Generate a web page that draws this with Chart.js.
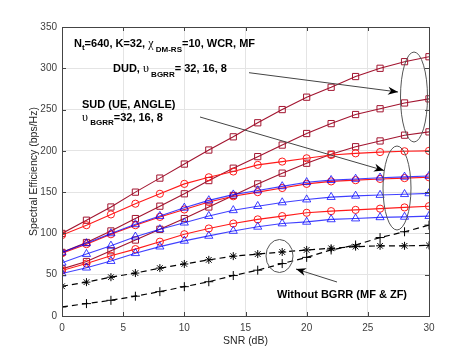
<!DOCTYPE html>
<html><head><meta charset="utf-8">
<script src="https://cdn.jsdelivr.net/npm/chart.js@4/dist/chart.umd.min.js"></script>
<style>html,body{margin:0;padding:0;background:#fff}</style>
</head><body>
<canvas id="c" width="474" height="355"></canvas>
<script>
const snr   = [0,2,4,6,8,10,12,14,16,18,20,22,24,26,28,30];
const dud32 = [100,116,132,150,167,184,201,217,234,250,265,277,290,300,308,314];
const dud16 = [77,89,103,118,133,148,164,179,193,207,221,233,244,251,258,263];
const dud8  = [57,66,79,92,105,118,132,146,160,173,185,196,205,212,219,223];
const ue32  = [98,110,123,136,148,160,168,175,183,187,191,195,197,198.5,199.5,200];
const ue16  = [76,87,99,110,120,129,138,145,150,155,160,163,164.5,166,167,168];
const ue8   = [55,63.5,73,81,90,99,106,112,117,121,125,127,128.5,130,131.5,133];
const ang32 = [77,88,100,111,121,131,140,147,152,157,162,164.5,166,167.5,168.5,169.5];
const ang16 = [64.5,75,85,96,105,113,121,128,133,137.5,141,144,145.5,146.5,147.5,148.5];
const ang8  = [51.5,58.5,66.5,76,84,91,97,103,108,112,114,117,118,119.5,120,121];
const mfNo  = [36,41,47,52,58,63,68,72.5,75,77.5,80,82,84,85,85,85.5];
const zfNo  = [11,15,19,24,29.5,35.5,41.5,49,55.5,63.5,71,80,86,95,102,110];
const xTicks = [0,5,10,15,20,25,30];
const yTicks = [0,50,100,150,200,250,300,350];

const pts = arr => arr.map((v,i)=>({x:snr[i], y:v}));
const DRED='#a2142f', RED='#ff1a1a', BLUE='rgba(0,0,255,0.75)';
function ds(data, color, style, r, order, extra){
  return Object.assign({data:pts(data), borderColor:color, backgroundColor:'transparent',
    borderWidth:1.1, pointStyle:style, pointRadius:r, pointBorderWidth:1,
    pointBorderColor:color, pointBackgroundColor:'transparent', tension:0, order:order}, extra||{});
}
const datasets = [
  ds(mfNo,'#000','star',4,0,{borderDash:[6,4],borderWidth:1.2}),
  ds(zfNo,'#000','cross',4.5,0,{borderDash:[6,4],borderWidth:1.2}),
  ds(ang32,BLUE,'triangle',4.7,1),
  ds(ang16,BLUE,'triangle',4.7,1),
  ds(ang8,BLUE,'triangle',4.7,1),
  ds(ue32,RED,'circle',3.6,2),
  ds(ue16,RED,'circle',3.6,2),
  ds(ue8,RED,'circle',3.6,2),
  ds(dud32,DRED,'rect',4.4,3),
  ds(dud16,DRED,'rect',4.4,3),
  ds(dud8,DRED,'rect',4.4,3)
];

const B='bold 11px "Liberation Sans", Arial, sans-serif';
const S='bold 8px "Liberation Sans", Arial, sans-serif';
const G='12px "Liberation Serif", serif';
function rich(ctx,x,y,segs){
  segs.forEach(s=>{ctx.font=s.f; ctx.fillText(s.t,x,y+(s.dy||0)); x+=ctx.measureText(s.t).width;});
}
function arrow(ctx,x1,y1,x2,y2){
  ctx.strokeStyle='#444'; ctx.lineWidth=1;
  ctx.beginPath(); ctx.moveTo(x1,y1); ctx.lineTo(x2,y2); ctx.stroke();
  const a=Math.atan2(y2-y1,x2-x1), L=10, W=4;
  const bx=x2-L*Math.cos(a), by=y2-L*Math.sin(a);
  const mx=x2-0.7*L*Math.cos(a), my=y2-0.7*L*Math.sin(a);
  ctx.fillStyle='#000'; ctx.beginPath(); ctx.moveTo(x2,y2);
  ctx.lineTo(bx+W*Math.sin(a), by-W*Math.cos(a));
  ctx.lineTo(mx,my);
  ctx.lineTo(bx-W*Math.sin(a), by+W*Math.cos(a));
  ctx.closePath(); ctx.fill();
}
function ell(ctx,cx,cy,rx,ry){
  ctx.strokeStyle='#555'; ctx.lineWidth=1;
  ctx.beginPath(); ctx.ellipse(cx,cy,rx,ry,0,0,Math.PI*2); ctx.stroke();
}
const deco = {
  id:'deco',
  afterDatasetsDraw(chart){
    const ctx=chart.ctx, a=chart.chartArea, xs=chart.scales.x, ys=chart.scales.y;
    ctx.save();
    ctx.strokeStyle='#444'; ctx.lineWidth=1;
    ctx.strokeRect(Math.round(a.left)+0.5, Math.round(a.top)+0.5, Math.round(a.right-a.left), Math.round(a.bottom-a.top));
    ctx.beginPath();
    xTicks.forEach(v=>{const px=Math.round(xs.getPixelForValue(v))+0.5;
      ctx.moveTo(px,a.bottom); ctx.lineTo(px,a.bottom-4); ctx.moveTo(px,a.top); ctx.lineTo(px,a.top+4);});
    yTicks.forEach(v=>{const py=Math.round(ys.getPixelForValue(v))+0.5;
      ctx.moveTo(a.left,py); ctx.lineTo(a.left+4,py); ctx.moveTo(a.right,py); ctx.lineTo(a.right-4,py);});
    ctx.stroke();
    ell(ctx,414,97,13.5,45); ell(ctx,397,188,14,42); ell(ctx,279.5,256,13.5,16.5);
    arrow(ctx,249,72.7,398,92); arrow(ctx,200,117,384,170.5); arrow(ctx,337,282,296,269);
    ctx.fillStyle='#000'; ctx.textBaseline='alphabetic'; ctx.textAlign='left';
    rich(ctx,74,47,[{t:'N',f:B},{t:'t',f:S,dy:3},{t:'=640, K=32, ',f:B},{t:'χ',f:G},{t:' DM-RS',f:S,dy:5},{t:'=10, WCR, MF',f:B}]);
    rich(ctx,113,72,[{t:'DUD, ',f:B},{t:'υ',f:G},{t:' BGRR',f:S,dy:4.5},{t:'= 32, 16, 8',f:B}]);
    rich(ctx,82,108,[{t:'SUD (UE, ANGLE)',f:B}]);
    rich(ctx,82,121,[{t:'υ',f:G},{t:' BGRR',f:S,dy:4},{t:'=32, 16, 8',f:B}]);
    rich(ctx,277,298,[{t:'Without BGRR (MF & ZF)',f:B}]);
    ctx.restore();
  }
};

new Chart(document.getElementById('c'),{
  type:'line',
  data:{datasets},
  options:{
    responsive:false, animation:false, events:[],
    layout:{padding:{left:0,right:45,top:27,bottom:0}},
    plugins:{legend:{display:false},tooltip:{enabled:false}},
    scales:{
      x:{type:'linear',min:0,max:30,
        afterBuildTicks:s=>{s.ticks=xTicks.map(v=>({value:v}));},
        afterFit:s=>{s.height=39;},
        grid:{color:'#e4e4e4',drawTicks:false},
        border:{display:false},
        ticks:{padding:6,color:'#404040',font:{family:'"Liberation Sans", Arial',size:10}},
        title:{display:true,text:'SNR (dB)',color:'#262626',font:{family:'"Liberation Sans", Arial',size:10.5},padding:{top:0,bottom:8}}
      },
      y:{type:'linear',min:0,max:350,
        afterBuildTicks:s=>{s.ticks=yTicks.map(v=>({value:v}));},
        afterFit:s=>{s.width=62;},
        grid:{color:'#e4e4e4',drawTicks:false},
        border:{display:false},
        ticks:{padding:5,color:'#404040',font:{family:'"Liberation Sans", Arial',size:10}},
        title:{display:true,text:'Spectral Efficiency (bps/Hz)',color:'#262626',font:{family:'"Liberation Sans", Arial',size:10.5},padding:{top:28,bottom:0}}
      }
    }
  },
  plugins:[deco]
});
</script>
</body></html>
